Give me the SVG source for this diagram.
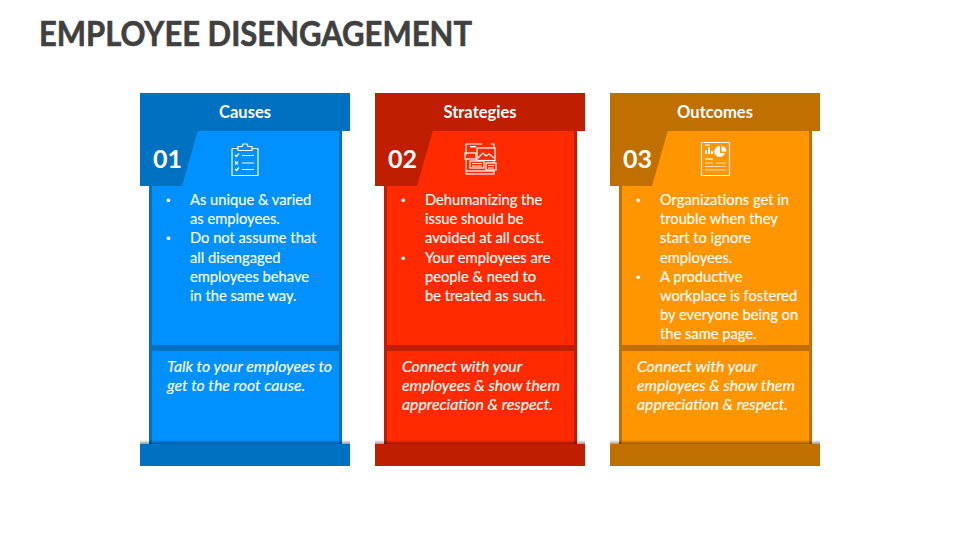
<svg xmlns="http://www.w3.org/2000/svg" width="960" height="540" viewBox="0 0 960 540">
<defs>
<linearGradient id="sh" x1="0" y1="0" x2="0" y2="1"><stop offset="0" stop-color="#000" stop-opacity="0"/><stop offset="1" stop-color="#000" stop-opacity="0.4"/></linearGradient>
</defs>
<style>
text{font-family:"Lato","Carlito","Liberation Sans",sans-serif;fill:#fff}
.title{font-size:34px;font-weight:700;fill:#404040;stroke:#404040;stroke-width:.6}
.head{font-size:16.5px;font-weight:700;text-anchor:middle}
.num{font-size:25px;font-weight:700}
.b{font-size:14.7px;stroke:#fff;stroke-width:.15}
.bl{font-size:13px;font-family:"Liberation Sans",sans-serif}
.i{font-size:15.8px;font-style:italic;stroke:#fff;stroke-width:.15}
.ic{fill:none;stroke:#fff;stroke-width:1.2}
.icf{fill:#fff}
.blue .d{fill:#0070c0}.blue .m{fill:#0091ff}
.red .d{fill:#bf1e00}.red .m{fill:#ff2a00}
.org .d{fill:#c07000}.org .m{fill:#ff9500}
</style>
<rect width="960" height="540" fill="#fff"/>
<text class="title" x="39" y="46" textLength="433" lengthAdjust="spacingAndGlyphs">EMPLOYEE DISENGAGEMENT</text>

<g id="node-causes" class="blue">
<rect class="d" x="149" y="120" width="193" height="324"/>
<rect class="m" x="152" y="120" width="187" height="225"/>
<rect class="m" x="152" y="351" width="187" height="93"/>
<rect class="d" x="140" y="93" width="210" height="38"/>
<polygon class="d" points="140,130 198,130 182,186 140,186"/>
<rect x="140" y="440" width="210" height="4" fill="url(#sh)"/>
<rect class="d" x="140" y="444" width="210" height="22"/>
<text class="head" x="245" y="118">Causes</text>
<text class="num" x="153" y="168">01</text>
<g>
<path class="ic" d="M232 148.500h6M252 148.500h6M232 148.500v27h26v-27M238 146.500h4l1-2.500h4l1 2.500h4v4h-14z"/>
<path class="ic" d="M235 155l1.500 1.500 2.500-3M235 161.500l3 3M238 161.500l-3 3M235 169l1.500 1.500 2.500-3M242 155.500h12M242 163h12M242 169.500h12"/>
</g>
<text class="bl"><tspan x="166" y="205">•</tspan><tspan x="166" y="243">•</tspan></text>
<text class="b"><tspan x="190" y="205">As unique &amp; varied</tspan><tspan x="190" y="224">as employees.</tspan><tspan x="190" y="243">Do not assume that</tspan><tspan x="190" y="263">all disengaged</tspan><tspan x="190" y="282">employees behave</tspan><tspan x="190" y="301">in the same way.</tspan></text>
<text class="i"><tspan x="167" y="372">Talk to your employees to</tspan><tspan x="167" y="391">get to the root cause.</tspan></text>
</g>

<g id="node-strategies" class="red">
<rect class="d" x="384" y="120" width="193" height="324"/>
<rect class="m" x="387" y="120" width="187" height="225"/>
<rect class="m" x="387" y="351" width="187" height="93"/>
<rect class="d" x="375" y="93" width="210" height="38"/>
<polygon class="d" points="375,130 433,130 417,186 375,186"/>
<rect x="375" y="440" width="210" height="4" fill="url(#sh)"/>
<rect class="d" x="375" y="444" width="210" height="22"/>
<text class="head" x="480" y="118">Strategies</text>
<text class="num" x="388" y="168">02</text>
<g>
<path class="ic" d="M466 155v-11h16M491 144h3v4M466 159v11M494 160v3"/>
<rect class="icf" x="470" y="146" width="6" height="1.500"/>
<rect class="ic" x="477" y="148" width="18" height="12.500"/>
<path class="ic" d="M478 158l5-5 3 3 3-2 5 4"/>
<rect class="ic" x="465" y="153" width="11" height="6"/>
<rect class="ic" x="470" y="161" width="14" height="7"/>
<path class="ic" d="M472 163.500h10M472 166h10"/>
<rect class="ic" x="486" y="163" width="10" height="7"/>
<path class="ic" d="M488 165.500h6M488 168h6"/>
<rect class="ic" x="466" y="171" width="28" height="3"/>
</g>
<text class="bl"><tspan x="401" y="205">•</tspan><tspan x="401" y="263">•</tspan></text>
<text class="b"><tspan x="425" y="205">Dehumanizing the</tspan><tspan x="425" y="224">issue should be</tspan><tspan x="425" y="243">avoided at all cost.</tspan><tspan x="425" y="263">Your employees are</tspan><tspan x="425" y="282">people &amp; need to</tspan><tspan x="425" y="301">be treated as such.</tspan></text>
<text class="i"><tspan x="402" y="372">Connect with your</tspan><tspan x="402" y="391">employees &amp; show them</tspan><tspan x="402" y="410">appreciation &amp; respect.</tspan></text>
</g>

<g id="node-outcomes" class="org">
<rect class="d" x="619" y="120" width="193" height="324"/>
<rect class="m" x="622" y="120" width="187" height="225"/>
<rect class="m" x="622" y="351" width="187" height="93"/>
<rect class="d" x="610" y="93" width="210" height="38"/>
<polygon class="d" points="610,130 668,130 652,186 610,186"/>
<rect x="610" y="440" width="210" height="4" fill="url(#sh)"/>
<rect class="d" x="610" y="444" width="210" height="22"/>
<text class="head" x="715" y="118">Outcomes</text>
<text class="num" x="623" y="168">03</text>
<g>
<path class="ic" d="M701.500 142.500h28v33h-28z"/>
<rect class="icf" x="705" y="144.500" width="5" height="1.200"/>
<path class="icf" d="M705 154h2v-4h-2zM708 154h2v-7h-2zM711 154h2v-3h-2z"/>
<path class="icf" d="M720 146a5.500 5.500 0 1 0 5 7h-5z"/>
<path class="icf" d="M721.500 146v5.500h5a5.500 5.500 0 0 0-5-5.500z"/>
<rect class="icf" x="705" y="158.500" width="8" height="1.200"/>
<path class="ic" stroke-opacity=".7" d="M705 163h8M716 163h10M705 166.500h21M705 170h21"/>
</g>
<text class="bl"><tspan x="636" y="205">•</tspan><tspan x="636" y="282">•</tspan></text>
<text class="b"><tspan x="660" y="205">Organizations get in</tspan><tspan x="660" y="224">trouble when they</tspan><tspan x="660" y="243">start to ignore</tspan><tspan x="660" y="263">employees.</tspan><tspan x="660" y="282">A productive</tspan><tspan x="660" y="301">workplace is fostered</tspan><tspan x="660" y="320">by everyone being on</tspan><tspan x="660" y="339">the same page.</tspan></text>
<text class="i"><tspan x="637" y="372">Connect with your</tspan><tspan x="637" y="391">employees &amp; show them</tspan><tspan x="637" y="410">appreciation &amp; respect.</tspan></text>
</g>

<g id="connectors"></g>
</svg>
